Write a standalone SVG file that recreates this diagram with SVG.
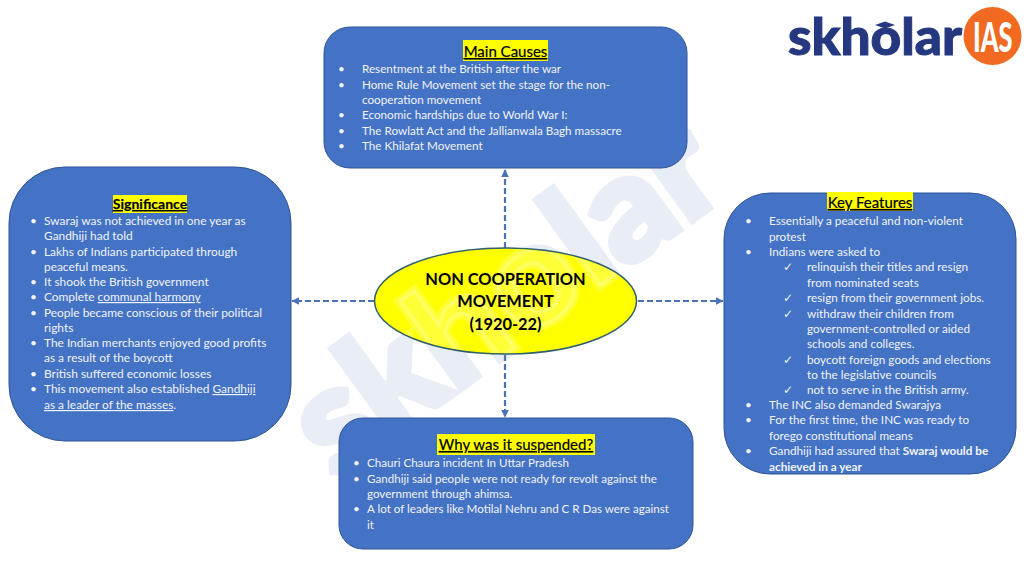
<svg xmlns="http://www.w3.org/2000/svg" width="1027" height="571" viewBox="0 0 1027 571">
<style>
text{font-family:Lato,"Liberation Sans",sans-serif}
.box{fill:#4472c4;stroke:#2f5597;stroke-width:1}
.t{fill:#fff;font-size:11.750px;opacity:.93}
.ck{font-family:"DejaVu Sans",sans-serif;font-size:12px}
.h{fill:#000;font-size:15px;text-anchor:middle;text-decoration:underline;stroke:#000;stroke-width:.2}
.hl{fill:#ffff00}
.c{fill:#000;font-weight:700;font-size:16.400px;text-anchor:middle}
.ln{fill:none;stroke:#4a72b8;stroke-width:2.200;stroke-dasharray:6 3}
.wm{font-weight:900;font-size:145px;stroke-width:7}
</style>
<defs>
<marker id="a" viewBox="0 0 6 6" refX="5.500" refY="3" markerWidth="3.500" markerHeight="3.500" orient="auto-start-reverse"><path d="M0 0L6 3L0 6z" fill="#4a72b8"/></marker>
<clipPath id="ec"><ellipse cx="505.500" cy="301" rx="130" ry="52"/></clipPath>
<text id="wmt" class="wm" transform="translate(335 480) rotate(-36)" textLength="490" lengthAdjust="spacingAndGlyphs">skholar</text>
</defs>
<rect width="1027" height="571" fill="#fff"/>
<use href="#wmt" fill="#e9edf6" stroke="#e9edf6"/>
<g id="connectors">
<line class="ln" x1="505" y1="248" x2="505" y2="170" marker-end="url(#a)"/>
<line class="ln" x1="505" y1="355" x2="505" y2="417" marker-end="url(#a)"/>
<line class="ln" x1="374" y1="301" x2="292" y2="301" marker-end="url(#a)"/>
<line class="ln" x1="638" y1="301" x2="723" y2="301" marker-end="url(#a)"/>
</g>
<g id="logo">
<text x="788" y="55" font-size="51" font-weight="900" fill="#25377f" stroke="#25377f" stroke-width="1" textLength="174" lengthAdjust="spacingAndGlyphs">skholar</text>
<path d="M875 25l10-3.500l10 3.500l-10 3.500z" fill="#25377f"/>
<circle cx="992.500" cy="36" r="29" fill="#f26a21"/>
<text transform="translate(973 52) scale(.62 1)" font-size="41" font-weight="900" fill="#fff">IAS</text>
</g>
<g id="main-causes">
<rect class="box" x="324" y="27" width="363" height="141" rx="26"/>
<rect class="hl" x="463" y="40" width="85" height="21"/>
<text class="h" x="505.500" y="57">Main Causes</text>
<g class="t" style="font-size:11.700px">
<text x="338" y="73">•</text><text x="362" y="73">Resentment at the British after the war</text>
<text x="338" y="89">•</text><text x="362" y="89">Home Rule Movement set the stage for the non-</text>
<text x="362" y="104">cooperation movement</text>
<text x="338" y="119">•</text><text x="362" y="119">Economic hardships due to World War I:</text>
<text x="338" y="135">•</text><text x="362" y="135">The Rowlatt Act and the Jallianwala Bagh massacre</text>
<text x="338" y="150">•</text><text x="362" y="150">The Khilafat Movement</text>
</g>
</g>
<g id="significance">
<rect class="box" x="9" y="167" width="282" height="274" rx="56"/>
<rect class="hl" x="113" y="195" width="74" height="18"/>
<text class="h" x="150" y="209" style="font-size:14px;font-weight:700">Significance</text>
<g class="t" style="font-size:11.900px">
<text x="30" y="225">•</text><text x="44" y="225">Swaraj was not achieved in one year as</text>
<text x="44" y="240">Gandhiji had told</text>
<text x="30" y="256">•</text><text x="44" y="256">Lakhs of Indians participated through</text>
<text x="44" y="271">peaceful means.</text>
<text x="30" y="286">•</text><text x="44" y="286">It shook the British government</text>
<text x="30" y="301">•</text><text x="44" y="301">Complete <tspan text-decoration="underline">communal harmony</tspan></text>
<text x="30" y="317">•</text><text x="44" y="317">People became conscious of their political</text>
<text x="44" y="332">rights</text>
<text x="30" y="347">•</text><text x="44" y="347">The Indian merchants enjoyed good profits</text>
<text x="44" y="362">as a result of the boycott</text>
<text x="30" y="378">•</text><text x="44" y="378">British suffered economic losses</text>
<text x="30" y="393">•</text><text x="44" y="393">This movement also established <tspan text-decoration="underline">Gandhiji</tspan></text>
<text x="44" y="409"><tspan text-decoration="underline">as a leader of the masses</tspan>.</text>
</g>
</g>
<g id="key-features">
<rect class="box" x="724" y="193" width="292" height="281" rx="46"/>
<rect class="hl" x="827" y="192" width="86" height="19"/>
<text class="h" x="870" y="208">Key Features</text>
<g class="t">
<text x="745" y="225">•</text><text x="769" y="225">Essentially a peaceful and non-violent</text>
<text x="769" y="241">protest</text>
<text x="745" y="256">•</text><text x="769" y="256">Indians were asked to</text>
<text class="ck" x="783" y="271">✓</text><text x="807" y="271">relinquish their titles and resign</text>
<text x="807" y="287">from nominated seats</text>
<text class="ck" x="783" y="302">✓</text><text x="807" y="302">resign from their government jobs.</text>
<text class="ck" x="783" y="318">✓</text><text x="807" y="318">withdraw their children from</text>
<text x="807" y="333">government-controlled or aided</text>
<text x="807" y="348">schools and colleges.</text>
<text class="ck" x="783" y="364">✓</text><text x="807" y="364">boycott foreign goods and elections</text>
<text x="807" y="379">to the legislative councils</text>
<text class="ck" x="783" y="394">✓</text><text x="807" y="394">not to serve in the British army.</text>
<text x="745" y="409">•</text><text x="769" y="409">The INC also demanded Swarajya</text>
<text x="745" y="424">•</text><text x="769" y="424">For the first time, the INC was ready to</text>
<text x="769" y="440">forego constitutional means</text>
<text x="745" y="455">•</text><text x="769" y="455">Gandhiji had assured that <tspan font-weight="700">Swaraj would be</tspan></text>
<text x="769" y="471" font-weight="700">achieved in a year</text>
</g>
</g>
<g id="center">
<ellipse cx="505.500" cy="301" rx="131" ry="53" fill="#ffff00" stroke="#2f5f6f" stroke-width="1.500"/>
<g clip-path="url(#ec)"><use href="#wmt" fill="#fff" stroke="#fff" fill-opacity=".22" stroke-opacity=".22"/></g>
<text class="c" x="505.500" y="285">NON COOPERATION</text>
<text class="c" x="505.500" y="307">MOVEMENT</text>
<text class="c" x="505.500" y="330">(1920-22)</text>
</g>
<g id="why-suspended">
<rect class="box" x="339" y="418" width="354" height="131" rx="24"/>
<rect class="hl" x="437" y="434" width="158" height="21"/>
<text class="h" x="516" y="450">Why was it suspended?</text>
<g class="t" style="font-size:11.600px">
<text x="353" y="467">•</text><text x="367" y="467">Chauri Chaura incident In Uttar Pradesh</text>
<text x="353" y="483">•</text><text x="367" y="483">Gandhiji said people were not ready for revolt against the</text>
<text x="367" y="498">government through ahimsa.</text>
<text x="353" y="513">•</text><text x="367" y="513">A lot of leaders like Motilal Nehru and C R Das were against</text>
<text x="367" y="529">it</text>
</g>
</g>
</svg>
